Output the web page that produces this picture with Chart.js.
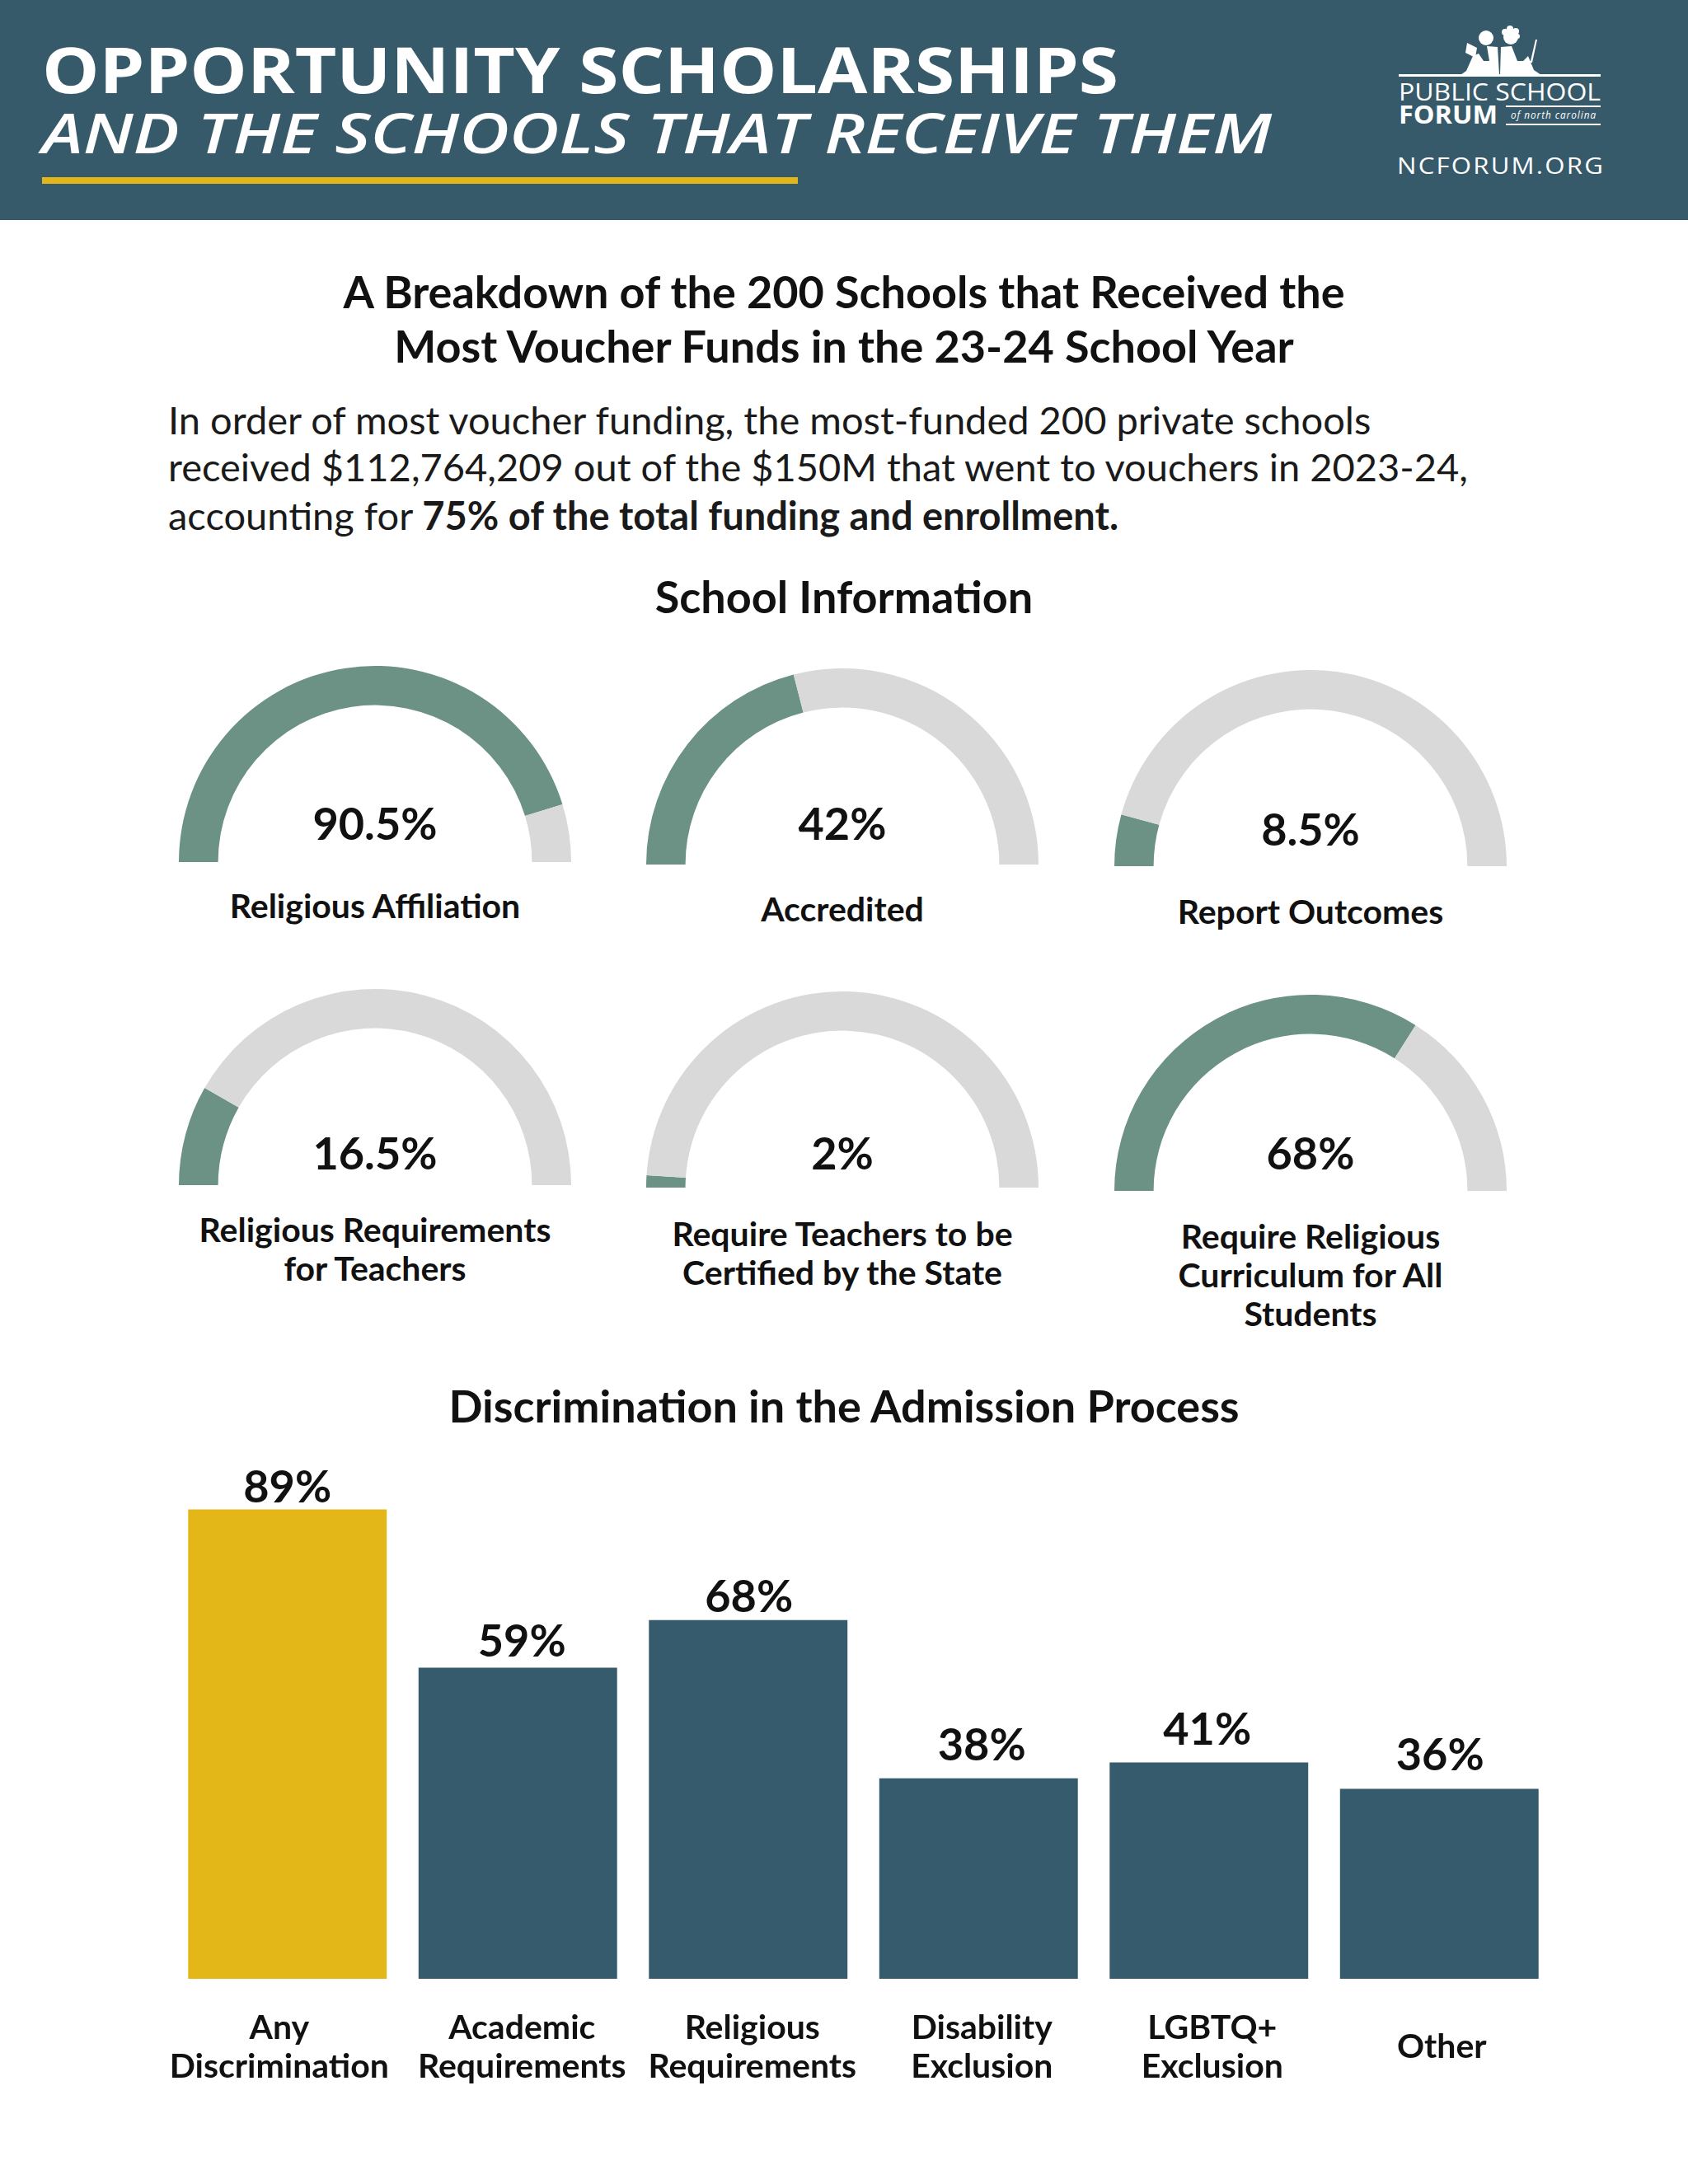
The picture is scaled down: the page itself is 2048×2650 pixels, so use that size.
<!DOCTYPE html>
<html>
<head>
<meta charset="utf-8">
<script src="https://cdn.jsdelivr.net/npm/chart.js@4.4.0/dist/chart.umd.min.js"></script>
<style>
html, body { margin: 0; padding: 0; background: #fff; }
body { width: 2048px; height: 2650px; position: relative; overflow: hidden; font-family: Lato, "Noto Sans", sans-serif; color: #111; }
.abs { position: absolute; white-space: nowrap; }
#header { position: absolute; left: 0; top: 0; width: 2048px; height: 267px; background: #375a6b; }
.ht { color: #fff; font-family: "Open Sans", sans-serif; transform-origin: left center; }
.ctr { text-align: center; }
canvas { position: absolute; }
</style>
</head>
<body>

<div id="header">
  <div class="abs ht fit" data-w="1306" style="left:51px;top:34px;line-height:100px;font-size:77px;font-weight:700;">OPPORTUNITY SCHOLARSHIPS</div>
  <div class="abs ht fit" data-w="1492" style="left:51px;top:120px;line-height:80px;font-size:67px;font-weight:600;font-style:italic;">AND THE SCHOOLS THAT RECEIVE THEM</div>
  <div class="abs" style="left:51px;top:215px;width:917px;height:8px;background:#e3b71b;"></div>

  <!-- logo -->
  <svg class="abs" style="left:1760px;top:30px;" width="120" height="62" viewBox="0 0 120 62">
    <g fill="#fff">
      <circle cx="43" cy="16" r="9"/>
      <path d="M44 26 L57 27 L59 61 L12 61 L19 56 L27 38 L34 35 L40 44 L47 44 Z"/>
      <path d="M20 22 L32 28 L30 40 L18 34 Z"/>
      <circle cx="73" cy="15" r="9"/>
      <circle cx="66" cy="9" r="4"/><circle cx="72" cy="5" r="4"/><circle cx="79" cy="8" r="4"/><circle cx="81" cy="14" r="3"/>
      <path d="M61 27 L74 26 L81 44 L88 44 L94 38 L101 55 L110 61 L60 61 Z"/>
      <path d="M84 44 L97 44 L103 18 L105 18 L99 46 L84 46 Z"/>
    </g>
  </svg>
  <div class="abs" style="left:1697px;top:90px;width:245px;height:3px;background:#fff;"></div>
  <div class="abs ht fit" data-w="245" style="left:1697px;top:90px;line-height:41px;font-size:30px;font-weight:400;">PUBLIC SCHOOL</div>
  <div class="abs ht fit" data-w="120" style="left:1697px;top:118px;line-height:41px;font-size:30px;font-weight:700;">FORUM</div>
  <div class="abs" style="left:1827px;top:128px;width:115px;height:2px;background:#fff;"></div>
  <div class="abs" style="left:1827px;top:150px;width:115px;height:2px;background:#fff;"></div>
  <div class="abs ht fit" data-w="104" style="left:1833px;top:132px;line-height:16px;font-size:12px;font-style:italic;letter-spacing:1px;">of north carolina</div>
  <div class="abs ht fit" data-w="252" style="left:1695px;top:180px;line-height:40px;font-size:28px;font-weight:400;letter-spacing:2px;">NCFORUM.ORG</div>
</div>

<div class="abs ctr" style="left:224px;width:1600px;top:321px;line-height:66px;font-size:54px;font-weight:700;">A Breakdown of the 200 Schools that Received the<br>Most Voucher Funds in the 23-24 School Year</div>

<div class="abs" style="left:204px;top:480px;line-height:58px;font-size:47px;color:#1a1a1a;">In order of most voucher funding, the most-funded 200 private schools</div>
<div class="abs" style="left:204px;top:537px;line-height:58px;font-size:47px;color:#1a1a1a;">received $112,764,209 out of the $150M that went to vouchers in 2023-24,</div>
<div class="abs" style="left:204px;top:596px;line-height:58px;font-size:47px;color:#1a1a1a;">accounting for <b>75% of the total funding and enrollment.</b></div>

<div class="abs ctr" style="left:524px;width:1000px;top:694px;line-height:60px;font-size:54px;font-weight:700;">School Information</div>

<div id="gauges"></div>

<div class="abs ctr" style="left:424px;width:1200px;top:1676px;line-height:60px;font-size:54px;font-weight:700;">Discrimination in the Admission Process</div>

<canvas id="bars" width="2048" height="900" style="left:0;top:1700px;"></canvas>

<script>
// --- data ---
var gaugeNames = [
  ['Religious Affiliation'],
  ['Accredited'],
  ['Report Outcomes'],
  ['Religious Requirements', 'for Teachers'],
  ['Require Teachers to be', 'Certified by the State'],
  ['Require Religious', 'Curriculum for All', 'Students']
];
var gaugeValues = [90.5, 42, 8.5, 16.5, 2, 68];
var gaugeText = ['90.5%', '42%', '8.5%', '16.5%', '2%', '68%'];

var barCategories = [
  ['Any', 'Discrimination'],
  ['Academic', 'Requirements'],
  ['Religious', 'Requirements'],
  ['Disability', 'Exclusion'],
  ['LGBTQ+', 'Exclusion'],
  ['Other']
];
var barValues = [89, 59, 68, 38, 41, 36];

// --- layout ---
var gCx = [455, 1022, 1590, 455, 1022, 1590];
var gBase = [1046, 1049, 1051, 1438, 1441, 1445];
var gPctY = [999, 999, 1006, 1399, 1399, 1399];
var gLabY = [1098, 1102, 1105, 1491, 1496, 1499];
var R = 238;
var valGap = [8, 13, 10, 22, 22, 23];   // label baseline above bar top
var valDx = [0, 5, 1, 4, -2, 1];
var catDx = [-10, 5, 5, 4, 4, 3];

var GREEN = '#6c9285', GREY = '#d9d9d9', BLUE = '#365b6d', GOLD = '#e3b717';

function fitAll() {
  document.querySelectorAll('.fit').forEach(function (el) {
    el.style.transform = '';
    var w = el.getBoundingClientRect().width;
    el.style.transform = 'scaleX(' + (parseFloat(el.dataset.w) / w) + ')';
  });
}

function makeGauges() {
  var box = document.getElementById('gauges');
  gaugeValues.forEach(function (v, i) {
    var cv = document.createElement('canvas');
    cv.width = 2 * R;
    cv.height = R;
    cv.style.left = (gCx[i] - R) + 'px';
    cv.style.top = (gBase[i] - R) + 'px';
    box.appendChild(cv);

    new Chart(cv, {
      type: 'doughnut',
      data: {
        labels: ['yes', 'no'],
        datasets: [{
          data: [v, 100 - v],
          backgroundColor: [GREEN, GREY],
          borderWidth: 0
        }]
      },
      options: {
        responsive: false,
        animation: false,
        events: [],
        rotation: -90,
        circumference: 180,
        cutout: '80%',
        layout: { padding: 0 },
        plugins: { legend: { display: false }, tooltip: { enabled: false } }
      }
    });

    var p = document.createElement('div');
    p.className = 'abs ctr';
    p.style.cssText = 'left:' + (gCx[i] - 200) + 'px;width:400px;top:' + (gPctY[i] - 35) + 'px;line-height:70px;font-size:54px;font-weight:700;';
    p.textContent = gaugeText[i];
    box.appendChild(p);

    gaugeNames[i].forEach(function (t, j) {
      var d = document.createElement('div');
      d.className = 'abs ctr';
      d.style.cssText = 'left:' + (gCx[i] - 300) + 'px;width:600px;top:' + (gLabY[i] - 23.5 + j * 47) + 'px;line-height:47px;font-size:41px;font-weight:700;';
      d.textContent = t;
      box.appendChild(d);
    });
  });
}

var barText = {
  id: 'barText',
  afterDatasetsDraw: function (chart) {
    var ctx = chart.ctx;
    var xs = chart.scales.x;
    var meta = chart.getDatasetMeta(0);
    ctx.save();
    ctx.fillStyle = '#111';
    ctx.textAlign = 'center';
    ctx.textBaseline = 'alphabetic';
    ctx.font = '700 54px Lato';
    meta.data.forEach(function (bar, i) {
      ctx.fillText(barValues[i] + '%', bar.x + valDx[i], bar.y - valGap[i]);
    });
    ctx.font = '700 41px Lato';
    ctx.textBaseline = 'middle';
    barCategories.forEach(function (lines, i) {
      var x = xs.getPixelForValue(i) + catDx[i];
      var y0 = chart.chartArea.bottom + 83 - (lines.length - 1) * 47 / 2;
      lines.forEach(function (t, j) { ctx.fillText(t, x, y0 + j * 47); });
    });
    ctx.restore();
  }
};

function makeBars() {
  new Chart(document.getElementById('bars'), {
    type: 'bar',
    data: {
      labels: barCategories.map(function (l) { return l.join(' '); }),
      datasets: [{
        data: barValues,
        backgroundColor: function (c) { return c.dataIndex === 0 ? GOLD : BLUE; },
        borderWidth: 0,
        categoryPercentage: 1,
        barPercentage: 0.862
      }]
    },
    options: {
      responsive: false,
      animation: false,
      events: [],
      layout: { padding: { left: 209, right: 162, top: 61, bottom: 199 } },
      scales: {
        x: { display: false },
        y: { display: false, min: 0, max: 100 }
      },
      plugins: { legend: { display: false }, tooltip: { enabled: false } }
    },
    plugins: [barText]
  });
}

document.fonts.load('700 54px Lato').then(function () {
  fitAll();
  makeGauges();
  makeBars();
});
</script>
</body>
</html>
